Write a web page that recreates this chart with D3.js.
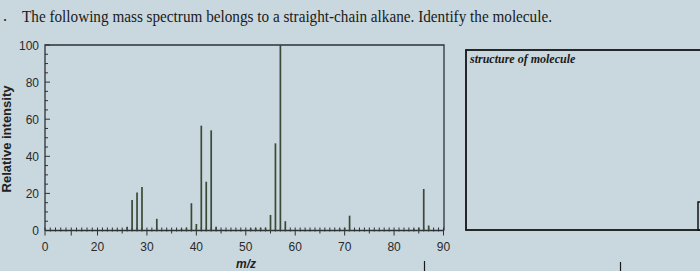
<!DOCTYPE html>
<html><head><meta charset="utf-8">
<script src="https://cdn.jsdelivr.net/npm/d3@7"></script>
<style>
html,body{margin:0;padding:0;background:#c9d7de;}
svg{display:block;}
</style></head>
<body>
<svg id="c" width="700" height="271"></svg>
<script>
// ---- data ----
const mz        = [26, 27, 28, 29, 32, 37, 38, 39, 40, 41, 42, 43, 44, 51, 52, 53, 54, 55, 56, 57, 58, 69, 70, 71, 84, 85, 86, 87];
const intensity = [2, 16.5, 20.5, 23.5, 6.3, 1, 1.5, 14.7, 3.5, 56.5, 26.3, 54, 2, 1.2, 1.5, 1.5, 1.5, 8.4, 47, 100, 5, 1, 1.5, 8, 1, 1.5, 22.4, 2.7];
const xTickLabels = [0, 20, 30, 40, 50, 60, 70, 80, 90];
const yTickLabels = [0, 20, 40, 60, 80, 100];
const titleText = "The following mass spectrum belongs to a straight-chain alkane. Identify the molecule.";
const yAxisTitle = "Relative intensity";
const xAxisTitle = "m/z";
const boxLabel = "structure of molecule";

const svg = d3.select("#c");
const W = 700, H = 271;
svg.append("rect").attr("width", W).attr("height", H).attr("fill", "#c9d7de");

const L = 45, R = 444, T = 45, B = 230.5;
// broken axis: 0-20 compressed
const x = d3.scaleLinear().domain([0, 20, 90]).range([L, 97.5, 443.5]);
const y = d3.scaleLinear().domain([0, 100]).range([B, T]);

const ink = "#2e3236";

// title
svg.append("text").attr("x", 3).attr("y", 21).attr("font-family", "Liberation Serif")
  .attr("font-size", 16).attr("fill", "#1a1a1a").text(".");
svg.append("text").attr("x", 22).attr("y", 22).attr("font-family", "Liberation Serif")
  .attr("font-size", 16).attr("fill", "#1a1a1a")
  .attr("textLength", 530).attr("lengthAdjust", "spacingAndGlyphs").text(titleText);

// frame
const g = svg.append("g");
g.append("path").attr("d", `M${L},${B}V${T}H${R}V${B}`).attr("fill", "none")
  .attr("stroke", ink).attr("stroke-width", 1.3);
g.append("line").attr("x1", L).attr("x2", R).attr("y1", B).attr("y2", B)
  .attr("stroke", ink).attr("stroke-width", 1.3);

// x minor ticks
const xMinor = d3.range(0, 20, 2).concat(d3.range(20, 91, 1));
g.selectAll(".xt").data(xMinor).join("line")
  .attr("x1", d => x(d)).attr("x2", d => x(d))
  .attr("y1", B - 3)
  .attr("y2", d => (d % 10 === 0) ? B + 5 : (d % 5 === 0 && d >= 20 ? B + 3 : B + 1))
  .attr("stroke", ink).attr("stroke-width", 1);

// y ticks (inside)
const yMinor = d3.range(0, 101, 5);
g.selectAll(".yt").data(yMinor).join("line")
  .attr("x1", L).attr("x2", d => d % 20 === 0 ? L + 5 : L + 3)
  .attr("y1", d => y(d)).attr("y2", d => y(d))
  .attr("stroke", ink).attr("stroke-width", 1);

// tick labels
g.selectAll(".xl").data(xTickLabels).join("text")
  .attr("x", d => x(d)).attr("y", 251).attr("text-anchor", "middle")
  .attr("font-family", "Liberation Sans").attr("font-size", 12).attr("fill", "#2a2a2a")
  .text(d => d);
g.selectAll(".yl").data(yTickLabels).join("text")
  .attr("x", 39).attr("y", d => y(d) + 4.5).attr("text-anchor", "end")
  .attr("font-family", "Liberation Sans").attr("font-size", 12).attr("fill", "#2a2a2a")
  .text(d => d);

// axis titles
svg.append("text").attr("transform", "translate(11,139) rotate(-90)")
  .attr("text-anchor", "middle").attr("font-family", "Liberation Sans")
  .attr("font-weight", "bold").attr("font-size", 13).attr("fill", "#222").text(yAxisTitle);
svg.append("text").attr("x", 246).attr("y", 268).attr("text-anchor", "middle")
  .attr("font-family", "Liberation Sans").attr("font-style", "italic").attr("font-weight", "bold")
  .attr("font-size", 12).attr("fill", "#222").text(xAxisTitle);

// peaks
const peaks = mz.map((m, i) => ({ m, v: intensity[i] }));
g.selectAll(".pk").data(peaks).join("line")
  .attr("x1", d => x(d.m)).attr("x2", d => x(d.m))
  .attr("y1", B).attr("y2", d => y(d.v))
  .attr("stroke", "#3b4a36").attr("stroke-width", 1.7);

// structure box
svg.append("rect").attr("x", 466).attr("y", 50).attr("width", 260).attr("height", 180)
  .attr("fill", "none").attr("stroke", "#141414").attr("stroke-width", 1.8);
svg.append("rect").attr("x", 698).attr("y", 202).attr("width", 20).attr("height", 28)
  .attr("fill", "none").attr("stroke", "#141414").attr("stroke-width", 1.5);
svg.append("text").attr("x", 470).attr("y", 63).attr("font-family", "Liberation Serif")
  .attr("font-style", "italic").attr("font-weight", "bold").attr("font-size", 12)
  .attr("fill", "#1a1a1a").text(boxLabel);

// bottom stray marks
svg.append("line").attr("x1", 424.5).attr("x2", 424.5).attr("y1", 261).attr("y2", 271)
  .attr("stroke", "#1a1a1a").attr("stroke-width", 1.2);
svg.append("line").attr("x1", 620.5).attr("x2", 620.5).attr("y1", 262).attr("y2", 271)
  .attr("stroke", "#1a1a1a").attr("stroke-width", 1.2);
</script>
</body></html>
